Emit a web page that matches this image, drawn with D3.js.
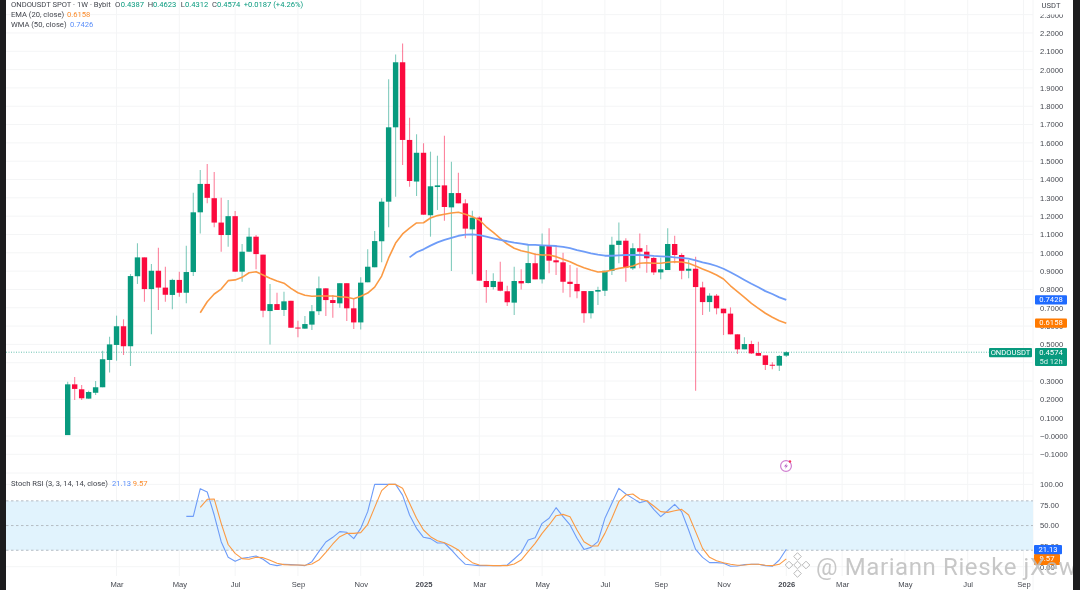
<!DOCTYPE html>
<html>
<head>
<meta charset="utf-8">
<script src="https://cdn.jsdelivr.net/npm/d3@7"></script>
<style>
html, body { margin: 0; padding: 0; background: #fff; overflow: hidden; }
svg { display: block; filter: blur(0.45px); font-family: Roboto, "Liberation Sans", sans-serif; }
</style>
</head>
<body>
<svg id="chart" width="1080" height="590"></svg>
<script>
// weekly candles
var opens = [.005,.282,.255,.204,.236,.266,.415,.497,.599,.49,.872,.975,.802,.902,.81,.77,.852,.782,.895,1.221,1.376,1.298,1.165,1.097,1.2,.897,1.006,1.088,.99,.682,.72,.688,.738,.592,.586,.608,.681,.806,.742,.724,.834,.697,.62,.839,.921,1.063,1.279,1.685,2.04,1.616,1.389,1.546,1.205,1.359,1.368,1.248,1.326,1.27,1.128,1.192,.846,.813,.842,.79,.728,.846,.835,.943,.855,1.037,.959,.948,.842,.83,.791,.67,.788,.793,.902,1.043,1.066,.915,1.025,1.006,.972,.893,.906,1.048,.988,.902,.913,.811,.731,.766,.695,.668,.555,.473,.502,.453,.44,.389,.384,.4387]
var highs = [.296,.322,.278,.247,.3,.466,.542,.657,.637,.884,1.052,.975,.939,1.028,.924,.859,.897,1.039,1.328,1.452,1.485,1.441,1.3,1.288,1.228,1.048,1.137,1.097,.99,.83,.782,.788,.738,.629,.655,.715,.87,.806,.77,.834,.834,.753,.866,1.019,1.119,1.298,1.947,2.083,2.143,1.737,1.647,1.598,1.552,1.53,1.639,1.497,1.437,1.292,1.23,1.2,.906,.888,.951,.82,.924,.91,1.043,.997,1.106,1.134,1.043,1,.933,.919,.791,.791,.815,.902,1.088,1.166,1.08,1.052,1.106,1.043,.979,.975,1.134,1.093,.997,.961,.979,.842,.779,.775,.695,.702,.555,.539,.52,.515,.44,.402,.442,.4623]
var lows = [.005,.197,.197,.204,.224,.266,.346,.411,.442,.382,.83,.733,.555,.688,.733,.692,.76,.724,.873,1.106,1.27,1.139,1.006,1.033,.897,.842,1.006,.91,.648,.5,.688,.655,.591,.539,.586,.579,.66,.655,.646,.7,.628,.584,.582,.839,.921,.948,1.139,1.306,1.479,1.361,1.31,1.208,1.088,1.234,1.175,.9,1.27,1.079,.883,.848,.728,.8,.79,.71,.66,.8,.833,.855,.833,.888,.879,.782,.757,.752,.618,.642,.715,.764,.879,.943,.842,.906,.915,.891,.879,.855,.906,.943,.855,.861,.247,.66,.678,.664,.551,.555,.448,.473,.448,.438,.36,.364,.355,.4312]
var closes = [.282,.257,.206,.24,.266,.419,.5,.599,.49,.873,.975,.802,.902,.81,.771,.852,.782,.895,1.221,1.376,1.3,1.165,1.097,1.2,.897,1.006,1.088,.993,.684,.72,.688,.735,.591,.588,.611,.681,.806,.742,.726,.834,.697,.62,.837,.924,1.064,1.279,1.685,2.04,1.616,1.392,1.546,1.208,1.363,1.368,1.25,1.326,1.27,1.132,1.192,.848,.813,.846,.793,.73,.846,.833,.944,.855,1.037,.957,.948,.842,.83,.79,.67,.791,.797,.902,1.044,1.066,.919,1.025,1.006,.97,.893,.91,1.048,.988,.902,.913,.813,.731,.766,.697,.67,.555,.473,.502,.451,.438,.388,.386,.437,.4574]

// indicators end on the last candle
var ema20 = [.673,.733,.775,.802,.848,.852,.866,.891,.897,.879,.861,.846,.834,.806,.782,.768,.763,.764,.764,.764,.76,.757,.749,.763,.78,.813,.873,.972,1.053,1.103,1.135,1.163,1.164,1.19,1.203,1.21,1.217,1.221,1.21,1.197,1.179,1.142,1.111,1.079,1.048,1.025,1.011,1.003,.992,.988,.988,.979,.965,.951,.933,.919,.906,.895,.897,.906,.915,.921,.928,.943,.946,.943,.943,.948,.951,.95,.943,.928,.912,.897,.879,.857,.82,.788,.757,.724,.697,.67,.648,.629,.6158]
var wma50 = [.975,1.003,1.019,1.039,1.057,1.07,1.082,1.093,1.099,1.101,1.096,1.088,1.079,1.07,1.063,1.055,1.05,1.044,1.043,1.041,1.039,1.037,1.032,1.025,1.015,1.006,.997,.99,.984,.984,.986,.988,.988,.988,.986,.983,.981,.979,.975,.972,.968,.959,.948,.939,.928,.913,.894,.873,.852,.831,.812,.791,.775,.757,.7428]
var stochK = [61.2,61.2,94.8,90.8,62.8,30.4,11.4,6.5,10.2,11.4,13,9,2.9,1.3,2.9,2.5,2.1,1.3,6.1,18.3,30,35.7,42.6,41.8,34.1,46.6,66.9,100,100,100,100,87,62.8,46.6,35.7,34.1,28.8,28.8,20.3,11,2.9,2.1,1.3,1.3,1.3,1.3,2.1,9.4,17,32.4,35.3,52.7,58.8,71.7,60.8,50.7,34.5,21,23.5,30.4,58.8,77,95.2,88.3,83,77.8,80.2,69.7,60.8,68,75.8,66.9,44.6,21,11.4,4.9,4.9,4.1,.5,.9,2.5,2.9,2.9,1.3,.5,8.1,21.13]
var stochD = [72.1,81.9,82.3,52.7,27,16.2,9.8,9,11.4,11,7.8,4.1,2.5,2.1,2.1,1.7,3.3,8.1,17.5,27.6,36.5,40.5,40.5,41.4,51.5,72.1,92.4,100,100,95.2,77,58.8,44.6,36.5,31.6,29.2,25.2,20.3,11.4,4.9,2.1,1.7,1.3,1.3,1.3,3.3,8.1,18.3,28.4,40.5,50.7,62,63.6,60.8,44.6,30.4,25.2,25.2,40.5,58.8,79,87.1,88.3,82.3,80.2,73.8,66.9,66,68,69.7,62.8,42.6,22.3,11.4,7.3,4.9,2.9,1.7,2.1,2.9,2.9,1.7,1.3,2.9,9.57]

var priceTicks = [2.3,2.2,2.1,2,1.9,1.8,1.7,1.6,1.5,1.4,1.3,1.2,1.1,1,.9,.8,.7,.6,.5,.4,.3,.2,.1,0,-.1]
var stochTicks = [100,75,50,25,0]
var timeTicks = [7,16,24,33,42,51,59,68,77,85,94,103,111,120,129,137]
var timeLabels = ['Mar','May','Jul','Sep','Nov','2025','Mar','May','Jul','Sep','Nov','2026','Mar','May','Jul','Sep']

var upColor = '#089a7e', downColor = '#fb0a3e', emaColor = '#fb9a44', wmaColor = '#6e9cf8'
var textColor = '#44474f'
var plotLeft = 6, plotRight = 1033, axisRight = 1073

var svg = d3.select('#chart')

var x = d3.scaleLinear().domain([0, opens.length - 1]).range([67.7, 786.3])
var y = d3.scaleLinear().domain([-0.1, 2.3]).range([454.32, 14.64])
var yStoch = d3.scaleLinear().domain([0, 100]).range([566.7, 484.4])

// clip so the last month label stops at the plot edge
svg.append('clipPath').attr('id', 'plotClip').append('rect')
   .attr('x', plotLeft).attr('y', 0).attr('width', plotRight - plotLeft + 2).attr('height', 590)

// grid
var grid = svg.append('g').attr('stroke', '#f4f5f6').attr('stroke-width', 1)
grid.selectAll('.gv').data(timeTicks).enter().append('line')
    .attr('x1', function (d) { return x(d) }).attr('x2', function (d) { return x(d) })
    .attr('y1', 0).attr('y2', 576)
grid.selectAll('.gh').data(priceTicks).enter().append('line')
    .attr('x1', plotLeft).attr('x2', plotRight)
    .attr('y1', function (d) { return y(d) }).attr('y2', function (d) { return y(d) })
grid.selectAll('.gs').data([100, 0]).enter().append('line')
    .attr('x1', plotLeft).attr('x2', plotRight)
    .attr('y1', function (d) { return yStoch(d) }).attr('y2', function (d) { return yStoch(d) })
grid.append('line').attr('x1', plotLeft).attr('x2', plotRight).attr('y1', 473).attr('y2', 473)
grid.append('line').attr('x1', plotRight).attr('x2', plotRight).attr('y1', 0).attr('y2', 590)

// stoch band
svg.append('rect')
   .attr('x', plotLeft).attr('width', plotRight - plotLeft)
   .attr('y', yStoch(80)).attr('height', yStoch(20) - yStoch(80))
   .attr('fill', '#e1f3fd')
svg.selectAll('.bandLine').data([80, 50, 20]).enter().append('line')
   .attr('x1', plotLeft).attr('x2', plotRight)
   .attr('y1', function (d) { return yStoch(d) }).attr('y2', function (d) { return yStoch(d) })
   .attr('stroke', '#b4bbc3').attr('stroke-width', 1).attr('stroke-dasharray', '2.5 2.5')

// last price line
svg.append('line')
   .attr('x1', plotLeft).attr('x2', 990)
   .attr('y1', y(closes[closes.length - 1])).attr('y2', y(closes[closes.length - 1]))
   .attr('stroke', upColor).attr('stroke-opacity', 0.6).attr('stroke-dasharray', '1 1.5')

// candles
var candles = svg.append('g').selectAll('g').data(opens).enter().append('g')
var candleColor = function (d, i) { return closes[i] >= opens[i] ? upColor : downColor }
candles.append('line')
   .attr('x1', function (d, i) { return x(i) }).attr('x2', function (d, i) { return x(i) })
   .attr('y1', function (d, i) { return y(highs[i]) }).attr('y2', function (d, i) { return y(lows[i]) })
   .attr('stroke', candleColor).attr('stroke-width', 1.1).attr('stroke-opacity', 0.5)
candles.append('rect')
   .attr('x', function (d, i) { return x(i) - 2.7 }).attr('width', 5.4)
   .attr('y', function (d, i) { return y(Math.max(opens[i], closes[i])) })
   .attr('height', function (d, i) { return Math.max(1, Math.abs(y(opens[i]) - y(closes[i]))) })
   .attr('fill', candleColor)

// lines
function drawLine(values, scale, color, width) {
    var start = opens.length - values.length
    var line = d3.line()
        .x(function (d, i) { return x(i + start) })
        .y(function (d) { return scale(d) })
    svg.append('path').attr('d', line(values))
       .attr('fill', 'none').attr('stroke', color).attr('stroke-width', width)
       .attr('stroke-linejoin', 'round')
}
drawLine(ema20, y, emaColor, 1.6)
drawLine(wma50, y, wmaColor, 1.8)
drawLine(stochK, yStoch, wmaColor, 1.1)
drawLine(stochD, yStoch, emaColor, 1.1)

// price axis
var priceFormat = function (d) {
    return (d <= 0 ? '\u2212' : '') + Math.abs(d).toFixed(4)
}
var axisPrice = svg.append('g').attr('transform', 'translate(' + plotRight + ',0)')
   .call(d3.axisRight(y).tickValues(priceTicks).tickFormat(priceFormat).tickSize(0).tickPadding(7))
var axisStoch = svg.append('g').attr('transform', 'translate(' + plotRight + ',0)')
   .call(d3.axisRight(yStoch).tickValues(stochTicks).tickFormat(function (d) { return d.toFixed(2) }).tickSize(0).tickPadding(7))
var axisTime = svg.append('g').attr('transform', 'translate(0,576)').attr('clip-path', 'url(#plotClip)')
   .call(d3.axisBottom(x).tickValues(timeTicks).tickFormat(function (d, i) { return timeLabels[i] }).tickSize(0).tickPadding(5.5))
;[axisPrice, axisStoch, axisTime].forEach(function (a) {
    a.select('.domain').remove()
    a.selectAll('text').attr('font-size', 7.6).attr('font-family', null).attr('fill', textColor)
})
axisTime.selectAll('text')
   .attr('font-weight', function (d, i) { return /^20/.test(timeLabels[i]) ? 700 : 400 })

// USDT box over the top tick
svg.append('rect').attr('x', plotRight + 2).attr('y', 0).attr('width', 36).attr('height', 14.5).attr('fill', '#fff')
svg.append('text').attr('x', 1051).attr('y', 7.6).attr('text-anchor', 'middle')
   .attr('font-size', 7.6).attr('fill', textColor).text('USDT')

// badges on the axis
function badge(bx, by, w, h, color, label) {
    svg.append('rect').attr('x', bx).attr('y', by).attr('width', w).attr('height', h).attr('rx', 1).attr('fill', color)
    svg.append('text').attr('x', bx + w / 2).attr('y', by + 6.9).attr('text-anchor', 'middle')
       .attr('font-size', 7.6).attr('fill', '#fff').text(label)
}
badge(1035, y(wma50[wma50.length - 1]) - 4.6, 32, 9.2, '#1f6bff', wma50[wma50.length - 1].toFixed(4))
badge(1035, y(ema20[ema20.length - 1]) - 4.6, 32, 9.2, '#ff7a00', ema20[ema20.length - 1].toFixed(4))
badge(989, 348, 43, 9.2, upColor, 'ONDOUSDT')
badge(1035, 348, 32, 18, upColor, closes[closes.length - 1].toFixed(4))
svg.append('text').attr('x', 1051).attr('y', 363.6).attr('text-anchor', 'middle')
   .attr('font-size', 7.6).attr('fill', '#fff').attr('fill-opacity', 0.85).text('5d 12h')
badge(1034, 554, 26, 11, '#ff7a00', stochD[stochD.length - 1].toFixed(2))
badge(1034, 545, 28, 9.2, '#1f6bff', stochK[stochK.length - 1].toFixed(2))

// legends
function legend(lx, ly, color, label) {
    svg.append('text').attr('x', lx).attr('y', ly).attr('font-size', 7.6).attr('fill', color).text(label)
}
legend(11, 7.2, textColor, 'ONDOUSDT SPOT \u00b7 1W \u00b7 Bybit')
legend(115, 7.2, textColor, 'O')
legend(120.7, 7.2, upColor, '0.4387')
legend(147.7, 7.2, textColor, 'H')
legend(153, 7.2, upColor, '0.4623')
legend(180.7, 7.2, textColor, 'L')
legend(185, 7.2, upColor, '0.4312')
legend(212, 7.2, textColor, 'C')
legend(217, 7.2, upColor, '0.4574')
legend(243.7, 7.2, upColor, '+0.0187 (+4.26%)')
legend(11, 17.2, textColor, 'EMA (20, close)')
legend(67, 17.2, '#fb8c2c', '0.6158')
legend(11, 27.2, textColor, 'WMA (50, close)')
legend(70, 27.2, '#5b8ff9', '0.7426')
legend(11, 485.5, textColor, 'Stoch RSI (3, 3, 14, 14, close)')
legend(112, 485.5, '#5b8ff9', '21.13')
legend(132.7, 485.5, '#fb8c2c', '9.57')

// small event icon under the last candle
var icon = svg.append('g').attr('transform', 'translate(786,466)')
icon.append('circle').attr('r', 5.4).attr('fill', '#fff').attr('stroke', '#d07fd0').attr('stroke-width', 1.2)
icon.append('path').attr('d', 'M1,-3 L-2,0.5 L0,0.5 L-1,3 L2,-0.5 L0,-0.5 Z').attr('fill', '#b45fc0')
icon.append('circle').attr('cx', 4).attr('cy', -4.5).attr('r', 1.2).attr('fill', '#f5325c')

// watermark
var mark = svg.append('g').attr('transform', 'translate(797.5,565)')
   .attr('fill', '#fff').attr('fill-opacity', 0.75).attr('stroke', '#b9b9b9').attr('stroke-width', 1)
var diamonds = [[0, -8.5, 3.8], [-8.5, 0, 3.8], [8.5, 0, 3.8], [0, 8.5, 3.8], [0, 0, 3.8]]
mark.selectAll('path').data(diamonds).enter().append('path')
   .attr('d', function (d) {
       return 'M' + d[0] + ',' + (d[1] - d[2]) + 'L' + (d[0] + d[2]) + ',' + d[1] + 'L' + d[0] + ',' + (d[1] + d[2]) + 'L' + (d[0] - d[2]) + ',' + d[1] + 'Z'
   })
svg.append('text').attr('x', 816).attr('y', 574.5)
   .attr('font-size', 24).attr('fill', '#bdbdbd').attr('fill-opacity', 0.85)
   .attr('letter-spacing', 0.6)
   .text('@ Mariann Rieske jXew')

// phone frame edges
svg.append('rect').attr('x', 0).attr('y', 0).attr('width', plotLeft).attr('height', 590).attr('fill', '#1c1c1e')
svg.append('rect').attr('x', axisRight).attr('y', 0).attr('width', 1080 - axisRight).attr('height', 590).attr('fill', '#1c1c1e')
</script>
</body>
</html>
